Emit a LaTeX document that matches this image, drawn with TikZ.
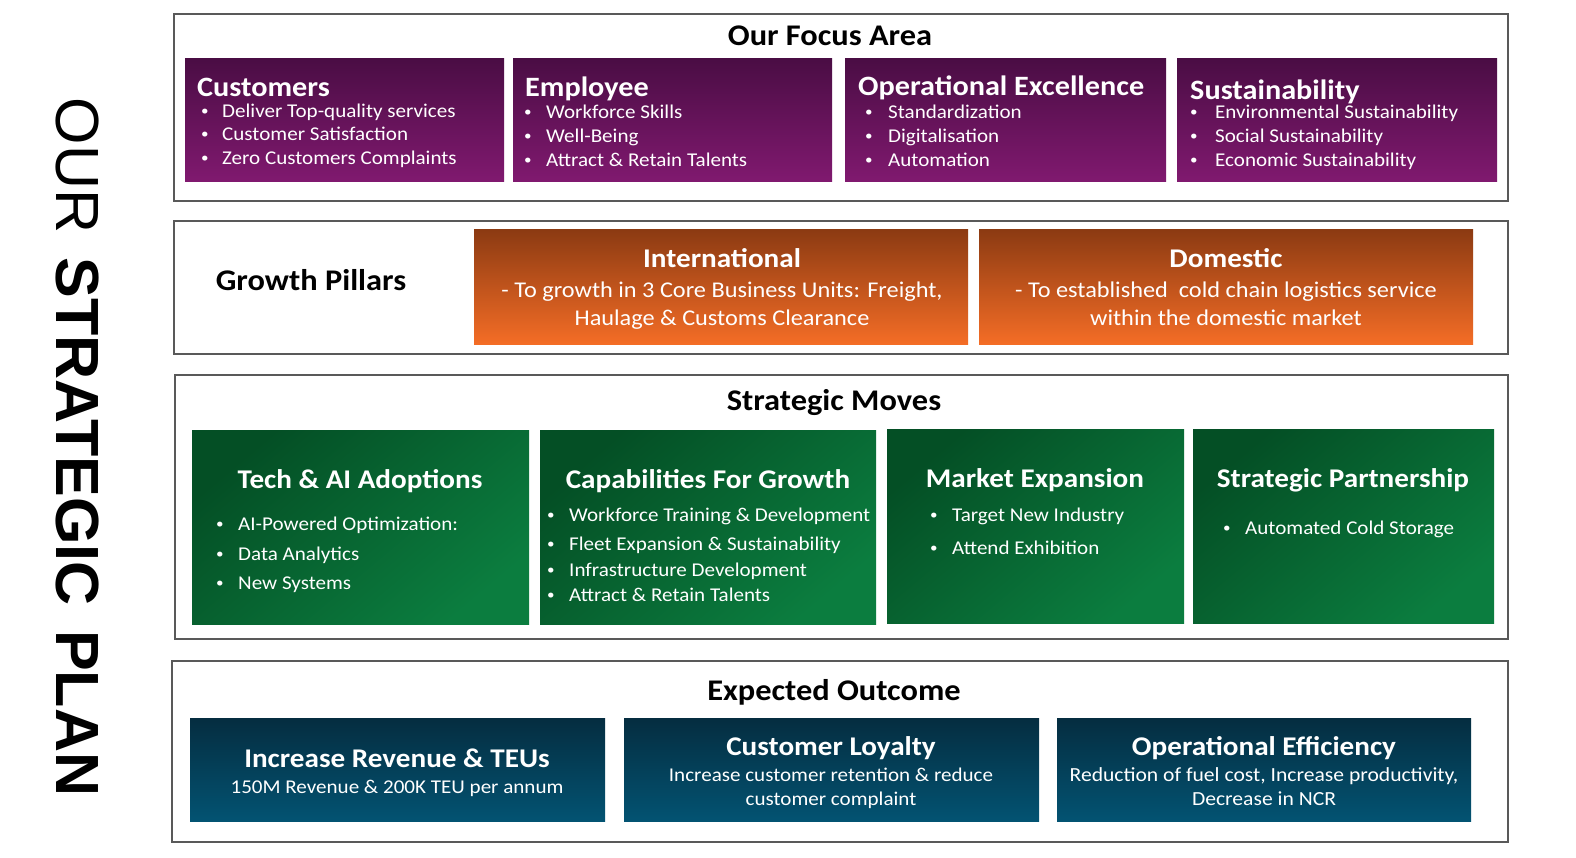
\documentclass[tikz,border=0pt]{standalone}
\usepackage{fontspec}
\setmainfont[FakeStretch=1.08]{Carlito}
\newfontfamily\arialf{Liberation Sans}
\usetikzlibrary{fit}
\definecolor{panelgray}{HTML}{595959}
\definecolor{purpTop}{HTML}{4A0D44}
\definecolor{purpBot}{HTML}{80196F}
\definecolor{orTop}{HTML}{8B3A12}
\definecolor{orBot}{HTML}{F46D26}
\definecolor{grDark}{HTML}{044F25}
\definecolor{grLight}{HTML}{0B7D3F}
\definecolor{blTop}{HTML}{052D40}
\definecolor{blBot}{HTML}{035372}
\begin{document}
\begin{tikzpicture}[x=1pt,y=-1pt,
  panel/.style={draw=panelgray, line width=2.5pt, fill=white},
  fitbox/.style={inner sep=0pt, outer sep=0pt, draw=none},
  pbox/.style={fitbox, top color=purpTop, bottom color=purpBot},
  obox/.style={fitbox, top color=orTop, bottom color=orBot},
  gbox/.style={fitbox, top color=grDark, bottom color=grLight, shading angle=40},
  bbox/.style={fitbox, top color=blTop, bottom color=blBot},
  ptitle/.style={font=\fontsize{30}{33}\selectfont\bfseries, text=black, inner sep=0pt},
  phead/.style={font=\fontsize{28}{31}\selectfont\bfseries, text=white, inner sep=0pt, anchor=base west},
  pitem/.style={font=\fontsize{19.5}{22}\selectfont, text=white, inner sep=0pt, anchor=base west},
  chead/.style={font=\fontsize{27}{30}\selectfont\bfseries, text=white, inner sep=0pt, anchor=base},
  cline/.style={font=\fontsize{22.5}{25}\selectfont, text=white, inner sep=0pt, anchor=base},
  sline/.style={font=\fontsize{19.5}{22}\selectfont, text=white, inner sep=0pt, anchor=base},
  bul/.style={font=\fontsize{14}{16}\selectfont, text=white, inner sep=0pt, anchor=base west},
]
\useasboundingbox (0,0) rectangle (1576,857);
\fill[white] (0,0) rectangle (1576,857);

% vertical title
\node[font=\arialf\fontsize{61}{66}\selectfont, rotate=-90, inner sep=0pt] (vt) at (77,447)
  {OUR\hspace{0.4em}\textbf{STRATEGIC\hspace{0.4em}PLAN}};

% ===== Focus area =====
\draw[panel] (174,14) rectangle (1508,201);
\node[ptitle] (ft) at (830,36) {Our Focus Area};
\node[pbox, fit={(185,58) (504,181)}] (cust) {};
\node[pbox, fit={(513,58) (832,181)}] (empl) {};
\node[pbox, fit={(845,58) (1166,181)}] (opex) {};
\node[pbox, fit={(1177,58) (1497,181)}] (sust) {};

\node[phead] (custh) at (197,96) {Customers};
\node[bul] (cb1) at (201,115) {\textbullet}; \node[pitem] (ct1) at (222,117) {Deliver Top-quality services};
\node[bul] (cb2) at (201,138) {\textbullet}; \node[pitem] (ct2) at (222,140) {Customer Satisfaction};
\node[bul] (cb3) at (201,162) {\textbullet}; \node[pitem] (ct3) at (222,164) {Zero Customers Complaints};

\node[phead] (emplh) at (525,96) {Employee};
\node[bul] (eb1) at (524,116) {\textbullet}; \node[pitem] (et1) at (546,118) {Workforce Skills};
\node[bul] (eb2) at (524,140) {\textbullet}; \node[pitem] (et2) at (546,142) {Well-Being};
\node[bul] (eb3) at (524,164) {\textbullet}; \node[pitem] (et3) at (546,166) {Attract \& Retain Talents};

\node[phead] (opexh) at (858,95) {Operational Excellence};
\node[bul] (ob1) at (865,116) {\textbullet}; \node[pitem] (ot1) at (888,118) {Standardization};
\node[bul] (ob2) at (865,140) {\textbullet}; \node[pitem] (ot2) at (888,142) {Digitalisation};
\node[bul] (ob3) at (865,164) {\textbullet}; \node[pitem] (ot3) at (888,166) {Automation};

\node[phead] (susth) at (1190,99) {Sustainability};
\node[bul] (sb1) at (1190,116) {\textbullet}; \node[pitem] (st1) at (1215,118) {Environmental Sustainability};
\node[bul] (sb2) at (1190,140) {\textbullet}; \node[pitem] (st2) at (1215,142) {Social Sustainability};
\node[bul] (sb3) at (1190,164) {\textbullet}; \node[pitem] (st3) at (1215,166) {Economic Sustainability};

% ===== Growth pillars =====
\draw[panel] (174,221) rectangle (1508,354);
\node[ptitle] (gt) at (311,280) {Growth Pillars};
\node[obox, fit={(474,229) (968,344)}] (intl) {};
\node[obox, fit={(979,229) (1473,344)}] (dom) {};
\node[chead] (intlh) at (722,267) {International};
\node[cline] (intl1) at (722,297) {- To growth in 3 Core Business Units: Freight,};
\node[cline] (intl2) at (722,325) {Haulage \& Customs Clearance};
\node[chead] (domh) at (1226,267) {Domestic};
\node[cline] (dom1) at (1226,297) {- To established\ \ cold chain logistics service};
\node[cline] (dom2) at (1226,325) {within the domestic market};

% ===== Strategic moves =====
\draw[panel] (175,375) rectangle (1508,639);
\node[ptitle] (smt) at (834,403) {Strategic Moves};
\node[gbox, fit={(192,430) (529,624)}] (tech) {};
\node[gbox, fit={(540,430) (876,624)}] (capa) {};
\node[gbox, fit={(887,429) (1184,623)}] (mark) {};
\node[gbox, fit={(1193,429) (1494,623)}] (part) {};

\node[chead] (techh) at (360,488) {Tech \& AI Adoptions};
\node[bul] (tb1) at (216,528) {\textbullet}; \node[pitem] (tt1) at (238,530) {AI-Powered Optimization:};
\node[bul] (tb2) at (216,558) {\textbullet}; \node[pitem] (tt2) at (238,560) {Data Analytics};
\node[bul] (tb3) at (216,587) {\textbullet}; \node[pitem] (tt3) at (238,589) {New Systems};

\node[chead] (capah) at (708,488) {Capabilities For Growth};
\node[bul] (kb1) at (547,519) {\textbullet}; \node[pitem] (kt1) at (569,521) {Workforce Training \& Development};
\node[bul] (kb2) at (547,548) {\textbullet}; \node[pitem] (kt2) at (569,550) {Fleet Expansion \& Sustainability};
\node[bul] (kb3) at (547,574) {\textbullet}; \node[pitem] (kt3) at (569,576) {Infrastructure Development};
\node[bul] (kb4) at (547,599) {\textbullet}; \node[pitem] (kt4) at (569,601) {Attract \& Retain Talents};

\node[chead] (markh) at (1035,487) {Market Expansion};
\node[bul] (mb1) at (930,519) {\textbullet}; \node[pitem] (mt1) at (952,521) {Target New Industry};
\node[bul] (mb2) at (930,552) {\textbullet}; \node[pitem] (mt2) at (952,554) {Attend Exhibition};

\node[chead] (parth) at (1343,487) {Strategic Partnership};
\node[bul] (ab1) at (1223,532) {\textbullet}; \node[pitem] (at1) at (1245,534) {Automated Cold Storage};

% ===== Expected outcome =====
\draw[panel] (172,661) rectangle (1508,842);
\node[ptitle] (eot) at (834,692) {Expected Outcome};
\node[bbox, fit={(190,718) (605,821)}] (rev) {};
\node[bbox, fit={(624,718) (1039,821)}] (loy) {};
\node[bbox, fit={(1057,718) (1471,821)}] (eff) {};

\node[chead] (revh) at (397,767) {Increase Revenue \& TEUs};
\node[sline] (rev1) at (397,793) {150M Revenue \& 200K TEU per annum};
\node[chead] (loyh) at (831,755) {Customer Loyalty};
\node[sline] (loy1) at (831,781) {Increase customer retention \& reduce};
\node[sline] (loy2) at (831,805) {customer complaint};
\node[chead] (effh) at (1264,755) {Operational Efficiency};
\node[sline, font=\fontsize{20}{22}\selectfont] (eff1) at (1264,781) {Reduction of fuel cost, Increase productivity,};
\node[sline, font=\fontsize{20}{22}\selectfont] (eff2) at (1264,805) {Decrease in NCR};
\end{tikzpicture}
\end{document}
